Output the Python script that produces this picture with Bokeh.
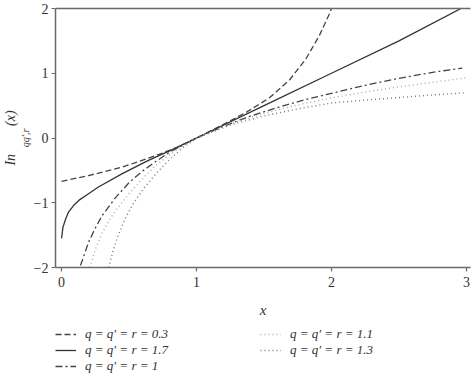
from bokeh.plotting import figure
from bokeh.layouts import column
from bokeh.models import (Legend, LegendItem, LinearAxis, FixedTicker, Title, Range1d)
from bokeh.embed import file_html
from bokeh.resources import INLINE

# ---- data ----
x_03 = [0.0, 0.2, 0.45, 0.7, 0.85, 1.0, 1.2, 1.37, 1.54, 1.69, 1.81, 1.91, 1.985, 2.0]
y_03 = [-0.67, -0.58, -0.45, -0.27, -0.15, 0.0, 0.21, 0.40, 0.62, 0.90, 1.22, 1.58, 1.92, 2.0]

x_17 = [0.0, 0.01, 0.03, 0.05, 0.09, 0.13, 0.2, 0.27, 0.45, 0.64, 0.82, 1.0, 1.5, 2.0, 2.5, 2.96]
y_17 = [-1.55, -1.38, -1.25, -1.15, -1.04, -0.96, -0.86, -0.76, -0.55, -0.35, -0.18, 0.0, 0.5, 1.0, 1.5, 2.0]

x_10 = [0.14, 0.2, 0.25, 0.3, 0.4, 0.5, 0.6, 0.7, 0.8, 0.9, 1.0, 1.2, 1.4, 1.6, 1.8, 2.0, 2.2, 2.4, 2.6, 2.8, 2.97]
y_10 = [-1.97, -1.61, -1.39, -1.20, -0.92, -0.69, -0.51, -0.36, -0.22, -0.11, 0.0, 0.18, 0.34, 0.47, 0.59, 0.69, 0.79, 0.88, 0.96, 1.03, 1.08]

x_11 = [0.21, 0.25, 0.3, 0.35, 0.4, 0.5, 0.6, 0.7, 0.8, 0.9, 1.0, 1.25, 1.5, 1.75, 2.0, 2.25, 2.5, 2.75, 3.0]
y_11 = [-2.0, -1.72, -1.47, -1.28, -1.12, -0.86, -0.63, -0.42, -0.26, -0.12, 0.0, 0.22, 0.38, 0.51, 0.62, 0.71, 0.79, 0.86, 0.93]

x_13 = [0.35, 0.38, 0.42, 0.47, 0.53, 0.6, 0.7, 0.8, 0.9, 1.0, 1.25, 1.5, 1.75, 2.0, 2.25, 2.5, 2.75, 3.0]
y_13 = [-2.0, -1.75, -1.50, -1.25, -1.02, -0.80, -0.55, -0.33, -0.15, 0.0, 0.20, 0.34, 0.45, 0.54, 0.585, 0.625, 0.665, 0.70]

legend_labels = ["q = q′ = r = 0.3", "q = q′ = r = 1.7", "q = q′ = r = 1",
                 "q = q′ = r = 1.1", "q = q′ = r = 1.3"]
x_ticks = [0, 1, 2, 3]
y_ticks = [-2, -1, 0, 1, 2]
y_tick_labels = {-2: "−2", -1: "−1", 0: "0", 1: "1", 2: "2"}
x_label = "x"
y_label_main = "In\u2003\u2003(x)"
y_label_sub = "qq′,r"

SERIF = "Liberation Serif"

styles = [dict(line_color="#444444", line_width=1.3, line_dash="6 3"),
          dict(line_color="#333333", line_width=1.3),
          dict(line_color="#444444", line_width=1.3, line_dash="7 3 2 3"),
          dict(line_color="#aaaaaa", line_width=1.4, line_dash="1 3"),
          dict(line_color="#777777", line_width=1.4, line_dash="1 3")]
series = [(x_03, y_03), (x_17, y_17), (x_10, y_10), (x_11, y_11), (x_13, y_13)]

p = figure(frame_width=415, frame_height=259, output_backend="svg", toolbar_location=None,
           x_range=Range1d(-0.045, 3.03), y_range=Range1d(-2, 2),
           min_border_left=0, min_border_right=4, min_border_top=8, min_border_bottom=0)
p.outline_line_color = None
p.grid.visible = False
p.background_fill_color = "white"
p.border_fill_color = "white"

for (xs, ys), st in zip(series, styles):
    p.line(xs, ys, **st)

for ax in (p.xaxis[0], p.yaxis[0]):
    ax.axis_line_color = "#6a6a6a"
    ax.axis_line_width = 1.5
    ax.major_tick_line_color = "#6a6a6a"
    ax.major_tick_line_width = 1.2
    ax.major_tick_out = 4
    ax.major_tick_in = 0
    ax.minor_tick_line_color = None
    ax.major_label_text_font = SERIF
    ax.major_label_text_font_size = "14px"
    ax.major_label_text_color = "#333333"

p.xaxis.ticker = FixedTicker(ticks=x_ticks)
p.yaxis.ticker = FixedTicker(ticks=y_ticks)
p.yaxis.major_label_overrides = y_tick_labels
p.xaxis.major_label_standoff = 5
p.yaxis.major_label_standoff = 3
p.xaxis.axis_label = x_label
p.xaxis.axis_label_text_font = SERIF
p.xaxis.axis_label_text_font_style = "italic"
p.xaxis.axis_label_text_font_size = "15px"
p.xaxis.axis_label_text_color = "#333333"
p.xaxis.axis_label_standoff = 12

top = LinearAxis(ticker=FixedTicker(ticks=[]), axis_line_color="#6a6a6a", axis_line_width=1.5,
                 major_tick_line_color=None, minor_tick_line_color=None,
                 major_label_text_color=None)
p.add_layout(top, "above")

# y-axis label: subscript part (closer to the frame) then main part
p.add_layout(Title(text=y_label_sub, align="center", standoff=0, text_font=SERIF,
                   text_font_style="italic", text_font_size="10px", text_color="#333333"), "left")
p.add_layout(Title(text=y_label_main, align="center", standoff=0, text_font=SERIF,
                   text_font_style="italic", text_font_size="14px", text_color="#333333"), "left")

# legend panel: a second, axis-less figure holding only the key
# (its ranges are set away from the data so the key lines themselves stay out of view)
pl = figure(width=474, height=56, output_backend="svg", toolbar_location=None,
            x_range=Range1d(10, 11), y_range=Range1d(10, 11),
            min_border_left=55, min_border_right=0, min_border_top=6, min_border_bottom=0)
pl.outline_line_color = None
pl.grid.visible = False
pl.axis.visible = False
key_renderers = [pl.line(xs, ys, **st) for (xs, ys), st in zip(series, styles)]

# row-major order for a 2-column legend: (0.3, 1.1), (1.7, 1.3), (1, -)
order = [0, 3, 1, 4, 2]
items = [LegendItem(label=legend_labels[i], renderers=[key_renderers[i]]) for i in order]
legend = Legend(items=items, orientation="horizontal", ncols=2, location="top_left",
                glyph_width=21, glyph_height=12, label_height=12, label_standoff=9,
                label_width=175, spacing=0, padding=0, margin=0,
                border_line_color=None, background_fill_alpha=0,
                label_text_font=SERIF, label_text_font_style="italic",
                label_text_font_size="13px", label_text_color="#333333")
pl.add_layout(legend, "center")

layout = column(p, pl, spacing=0)
open("out.html", "w").write(file_html(layout, INLINE))
